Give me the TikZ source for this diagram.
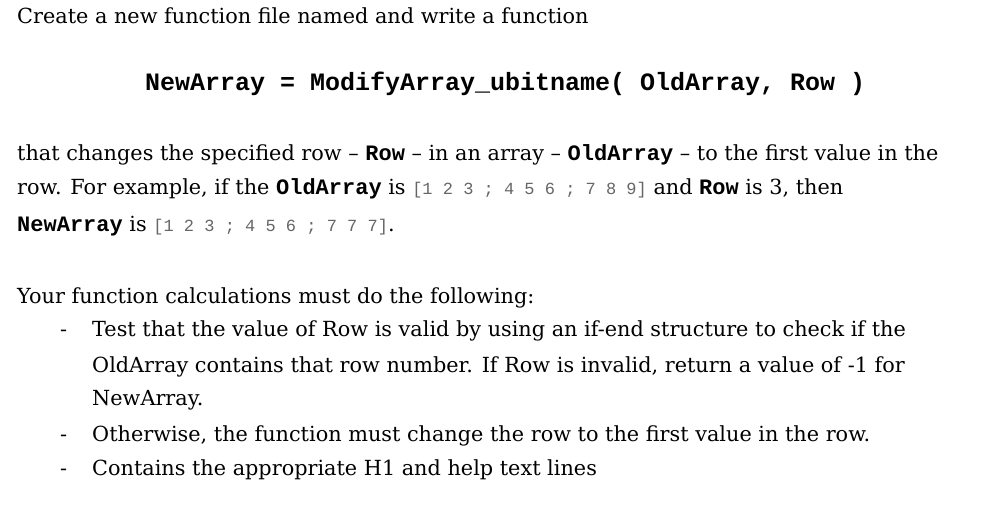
\documentclass[tikz,border=0pt]{standalone}
\usepackage{fontspec}
\setmainfont{DejaVu Serif}
\setmonofont{Liberation Mono}
\newcommand{\cb}[1]{{\ttfamily\bfseries\fontsize{22}{26}\selectfont #1}}
\newcommand{\cg}[1]{{\ttfamily\fontsize{17}{20}\selectfont\color{black!60}#1}}
\begin{document}
\begin{tikzpicture}[x=1pt,y=-1pt,txt/.style={anchor=base west,inner sep=0,font=\fontsize{20.8}{26}\selectfont}]
\useasboundingbox[fill=white] (0,0) rectangle (1006,519);
\node[txt] (l1) at (17,24) {Create a new function file named and write a function};
\node[txt,font=\fontsize{25}{28}\selectfont\ttfamily\bfseries] (code) at (145,90) {NewArray = ModifyArray\_ubitname( OldArray, Row )};
\node[txt] (p1) at (17,160) {that changes the specified row -- \cb{Row} -- in an array -- \cb{OldArray} -- to the first value in the};
\node[txt] (p2) at (17,194) {row. For example, if the \cb{OldArray} is \cg{[1 2 3 ; 4 5 6 ; 7 8 9]} and \cb{Row} is 3, then};
\node[txt] (p3) at (17,231) {\cb{NewArray} is \cg{[1 2 3 ; 4 5 6 ; 7 7 7]}.};
\node[txt] (y) at (17,303) {Your function calculations must do the following:};
\foreach \yy in {336,441,475} \node[txt] at (60,\yy) {-};
\node[txt] (b1) at (92,336) {Test that the value of Row is valid by using an if-end structure to check if the};
\node[txt] (b2) at (92,372) {OldArray contains that row number. If Row is invalid, return a value of -1 for};
\node[txt] (b3) at (92,405) {NewArray.};
\node[txt] (b4) at (92,441) {Otherwise, the function must change the row to the first value in the row.};
\node[txt] (b5) at (92,475) {Contains the appropriate H1 and help text lines};
\end{tikzpicture}
\end{document}
